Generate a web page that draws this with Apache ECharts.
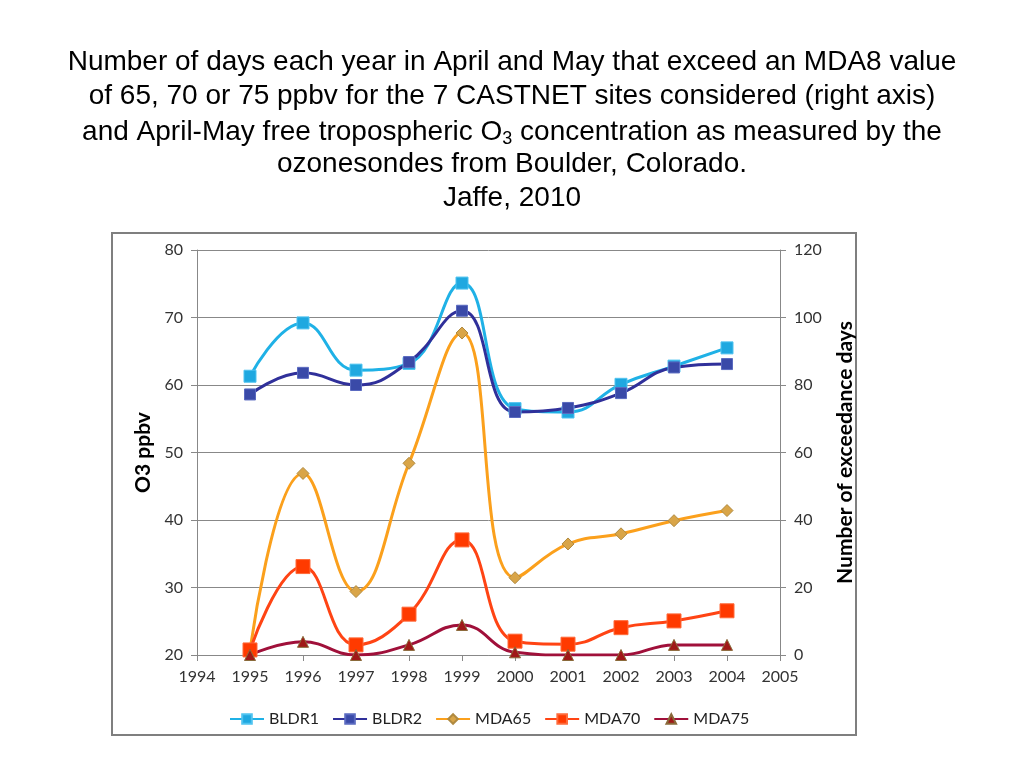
<!DOCTYPE html>
<html lang="en">
<head>
    <meta charset="UTF-8">
    <title>ozone exceedance</title>
    <script src="https://cdn.jsdelivr.net/npm/echarts@6/dist/echarts.min.js"></script>
    <style>
        html, body {
            margin: 0;
            padding: 0;
            background: #fff;
        }
        #main {
            width: 1024px;
            height: 768px;
        }
    </style>
</head>
<body>
<div id="main"></div>
<script>
    // years on the x axis
    var years = [1995, 1996, 1997, 1998, 1999, 2000, 2001, 2002, 2003, 2004];
    // O3 ppbv (left axis)
    var bldr1 = [61.3, 69.2, 62.2, 63.2, 75.1, 56.5, 56.0, 60.1, 62.8, 65.5];
    var bldr2 = [58.6, 61.8, 60.0, 63.4, 71.0, 56.0, 56.6, 58.8, 62.6, 63.1];
    // exceedance days (right axis)
    var mda65 = [1.5, 53.8, 18.8, 56.8, 95.4, 22.9, 32.9, 35.9, 39.8, 42.8];
    var mda70 = [1.5, 26.2, 3.0, 12.1, 34.1, 4.1, 3.2, 8.1, 10.1, 13.1];
    var mda75 = [0, 3.9, 0, 3.0, 8.9, 0.8, 0, 0, 3.0, 3.0];

    var titleLines = [
        'Number of days each year in April and May that exceed an MDA8 value',
        'of 65, 70 or 75 ppbv for the 7 CASTNET sites considered (right axis)',
        'and April-May free tropospheric O{sub|3} concentration as measured by the',
        'ozonesondes from Boulder, Colorado.',
        'Jaffe, 2010'
    ];

    function pairs(vals) {
        var out = [];
        for (var i = 0; i < years.length; i++) {
            out.push([years[i], vals[i]]);
        }
        return out;
    }

    var titles = [];
    for (var i = 0; i < titleLines.length; i++) {
        titles.push({
            text: titleLines[i],
            left: 'center',
            top: 48 + i * 34,
            padding: 0,
            textStyle: {
                fontFamily: 'Liberation Sans',
                fontSize: 28,
                fontWeight: 'normal',
                color: '#000',
                rich: {
                    sub: {fontFamily: 'Liberation Sans', fontSize: 18, color: '#000', padding: [14, 0, 0, 0]}
                }
            }
        });
    }

    var font = 'Lato';
    var myChart = echarts.init(document.getElementById('main'));
    myChart.setOption({
        animation: false,
        backgroundColor: '#fff',
        title: titles,
        graphic: [{
            type: 'rect',
            shape: {x: 112, y: 233, width: 744, height: 502},
            style: {fill: 'none', stroke: '#7f7f7f', lineWidth: 2},
            z: -1
        }],
        grid: {left: 197, right: 244, top: 250, bottom: 113},
        legend: {
            left: 224,
            top: 706,
            itemWidth: 34,
            itemHeight: 12,
            itemGap: 13,
            textStyle: {fontFamily: font, fontSize: 16, color: '#222'},
            data: ['BLDR1', 'BLDR2', 'MDA65', 'MDA70', 'MDA75']
        },
        xAxis: {
            type: 'value',
            min: 1994,
            max: 2005,
            interval: 1,
            axisLine: {lineStyle: {color: '#888'}},
            axisTick: {lineStyle: {color: '#888'}, length: 6},
            axisLabel: {
                fontFamily: font, fontSize: 16, color: '#333', margin: 14,
                formatter: function (v) { return String(v); }
            },
            splitLine: {show: false}
        },
        yAxis: [{
            type: 'value',
            min: 20,
            max: 80,
            interval: 10,
            name: 'O3 ppbv',
            nameLocation: 'middle',
            nameGap: 33,
            nameTextStyle: {fontFamily: font, fontSize: 21, fontWeight: 'bold', color: '#000'},
            axisLine: {show: true, lineStyle: {color: '#888'}},
            axisTick: {show: true, lineStyle: {color: '#888'}, length: 6},
            axisLabel: {fontFamily: font, fontSize: 16, color: '#333', margin: 14},
            splitLine: {lineStyle: {color: '#888'}}
        }, {
            type: 'value',
            min: 0,
            max: 120,
            interval: 20,
            name: 'Number of exceedance days',
            nameLocation: 'middle',
            nameGap: 55,
            nameTextStyle: {fontFamily: font, fontSize: 21, fontWeight: 'bold', color: '#000'},
            axisLine: {show: true, lineStyle: {color: '#888'}},
            axisTick: {show: true, lineStyle: {color: '#888'}, length: 6},
            axisLabel: {fontFamily: font, fontSize: 16, color: '#333', margin: 14},
            splitLine: {show: false}
        }],
        series: [{
            name: 'BLDR1',
            type: 'line',
            yAxisIndex: 0,
            smooth: 0.45,
            data: pairs(bldr1),
            symbol: 'rect',
            symbolSize: 12,
            lineStyle: {color: '#1fb1e6', width: 3},
            itemStyle: {color: '#1fa8e0', borderColor: '#4fc3f0', borderWidth: 1}
        }, {
            name: 'BLDR2',
            type: 'line',
            yAxisIndex: 0,
            smooth: 0.45,
            data: pairs(bldr2),
            symbol: 'rect',
            symbolSize: 11,
            lineStyle: {color: '#30309a', width: 3},
            itemStyle: {color: '#3a4aa8', borderColor: '#5a6ac0', borderWidth: 1}
        }, {
            name: 'MDA65',
            type: 'line',
            yAxisIndex: 1,
            smooth: 0.45,
            data: pairs(mda65),
            symbol: 'diamond',
            symbolSize: 12,
            lineStyle: {color: '#fba01c', width: 3},
            itemStyle: {color: '#d9a548', borderColor: '#b08a40', borderWidth: 1}
        }, {
            name: 'MDA70',
            type: 'line',
            yAxisIndex: 1,
            smooth: 0.45,
            data: pairs(mda70),
            symbol: 'rect',
            symbolSize: 14,
            lineStyle: {color: '#ff4414', width: 3},
            itemStyle: {color: '#ff3a00', borderColor: '#ff6a3a', borderWidth: 1}
        }, {
            name: 'MDA75',
            type: 'line',
            yAxisIndex: 1,
            smooth: 0.45,
            data: pairs(mda75),
            symbol: 'triangle',
            symbolSize: 11,
            lineStyle: {color: '#a0103a', width: 3},
            itemStyle: {color: '#a01818', borderColor: '#8a6a3a', borderWidth: 1}
        }]
    });
</script>
</body>
</html>
